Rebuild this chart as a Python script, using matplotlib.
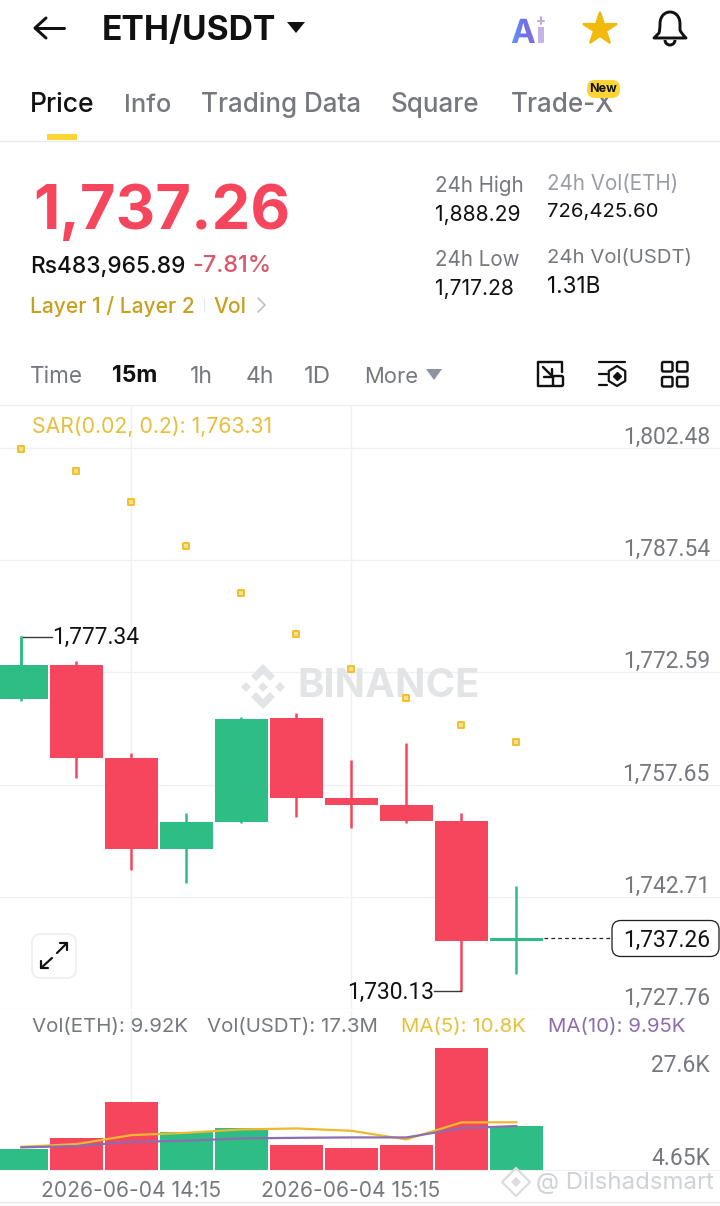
import numpy as np
import matplotlib
matplotlib.use('Agg')
import matplotlib.pyplot as plt
import matplotlib.patches as patches
from matplotlib.path import Path
from matplotlib.textpath import TextPath
from matplotlib.font_manager import FontProperties

W, H = 720, 1206
FONT = 'Inter'
NUM_FONT = 'Roboto'   # chart numbers have even digit widths
plt.rcParams['font.family'] = [FONT, 'DejaVu Sans']

# ── DATA ───────────────────────────────────────────────────
opens  = [1769.04, 1773.57, 1761.22, 1749.11, 1752.70, 1766.50, 1755.80, 1754.88, 1752.76, 1736.77]
highs  = [1777.34, 1774.14, 1761.85, 1753.86, 1766.64, 1767.17, 1760.92, 1763.22, 1753.86, 1744.14]
lows   = [1768.77, 1758.52, 1746.27, 1744.54, 1752.53, 1753.33, 1751.93, 1752.57, 1730.13, 1732.42]
closes = [1773.57, 1761.22, 1749.11, 1752.66, 1766.41, 1755.86, 1754.96, 1752.79, 1736.77, 1737.26]
sar    = [1802.33, 1799.46, 1795.34, 1789.41, 1783.15, 1777.76, 1773.10, 1769.17, 1765.64, 1763.31]
volume = [4.65, 7.28, 15.4, 8.64, 9.40, 5.71, 4.89, 5.71, 27.6, 9.92]
ma5    = [5.25, 5.86, 7.89, 8.41, 9.18, 9.40, 8.86, 6.92, 10.76, 10.8]
ma10   = [5.12, 5.41, 6.38, 6.61, 7.15, 7.28, 7.37, 7.37, 9.47, 9.95]
price_ticks = [1802.48, 1787.54, 1772.59, 1757.65, 1742.71, 1727.76]
vol_ticks   = [27.6, 4.65]
vol_labels  = ['27.6K', '4.65K']
time_pos    = [2, 6]
time_labels = ['2026-06-04 14:15', '2026-06-04 15:15']
last_price  = 1737.26

RED    = '#F6465D'
GREEN  = '#2EBD85'
YELLOW = '#F0B90B'
GOLD   = '#C99F1F'
SAR_C  = '#EFC02F'
PURPLE = '#8B6DB0'
GREY   = '#75787D'
DARK   = '#111111'
GRID   = '#EFF0F2'
MARK   = '#E3E4E6'

fig = plt.figure(figsize=(W / 100, H / 100), dpi=100, facecolor='white')

# page coordinates are just pixels, everything outside the charts goes here
ui = fig.add_axes([0, 0, 1, 1])
ui.set_xlim(0, W)
ui.set_ylim(H, 0)
ui.axis('off')


def axes_px(top, bottom):
    ax = fig.add_axes([0, 1 - bottom / H, 1, (bottom - top) / H])
    ax.patch.set_alpha(0)
    ax.set_xlim(-21.4 / 55, (W - 21.4) / 55)
    for s in ax.spines.values():
        s.set_visible(False)
    ax.set_xticks([])
    ax.set_yticks([])
    return ax


def px(size):
    # font size given in pixels
    return size * 0.72


def label(x, y, s, size, color=DARK, weight='normal', ha='left', **kw):
    # va=center sits a bit high for these fonts
    return ui.text(x, y + 0.09 * size, s, fontsize=px(size), color=color, fontweight=weight,
                   ha=ha, va='center', **kw)


def stroke(xs, ys, color=DARK, lw=2.0, **kw):
    ui.plot(xs, ys, color=color, lw=lw * 0.72, solid_capstyle='round',
            solid_joinstyle='round', **kw)


def rbox(x, y, w, h, r, fc='none', ec=DARK, lw=2.0, **kw):
    ui.add_patch(patches.FancyBboxPatch((x + r, y + r), w - 2 * r, h - 2 * r,
                                        boxstyle=f'round,pad={r},rounding_size={r}',
                                        fc=fc, ec=ec, lw=lw * 0.72, **kw))


# ── HEADER ─────────────────────────────────────────────────
stroke([35, 64], [28, 28], lw=3)
stroke([46, 35, 46], [18, 28, 38], lw=3)
label(102, 28, 'ETH/USDT', 33.6, weight='bold')
ui.add_patch(patches.Polygon([(287, 22), (305, 22), (296, 33)], fc=DARK, ec='none'))

# Ai badge with a blue to violet fade
fp = FontProperties(family=FONT, weight='bold', size=34)
tp = TextPath((0, 0), 'A', prop=fp)
tr = matplotlib.transforms.Affine2D().scale(0.98, -0.98).translate(511, 43) + ui.transData
grad = np.linspace(0, 1, 64).reshape(1, -1)
im = ui.imshow(grad, extent=(511, 536, 43, 16),
               cmap=matplotlib.colors.LinearSegmentedColormap.from_list('ai', ['#5F9BF8', '#6D72E8', '#8F6BD8']),
               aspect='auto', zorder=2)
im.set_clip_path(patches.PathPatch(tp, transform=tr))
ui.set_xlim(0, W)
ui.set_ylim(H, 0)
ui.add_patch(patches.Rectangle((538, 27), 6, 16, fc='#C7B4E6', ec='none'))
stroke([541, 541], [17, 24], color='#C7A6DC', lw=2)
stroke([538, 544], [20.5, 20.5], color='#C7A6DC', lw=2)

ui.plot([600], [29], marker='*', ms=25, mfc=YELLOW, mec=YELLOW, mew=1.5, zorder=3)

# bell
bell = Path([(654, 38), (659, 33), (660, 30), (660, 24), (660, 16), (665, 12), (670, 12),
             (675, 12), (680, 16), (680, 24), (680, 30), (681, 33), (686, 38), (654, 38)],
            [Path.MOVETO, Path.LINETO, Path.CURVE3, Path.LINETO, Path.CURVE4, Path.CURVE4, Path.CURVE4,
             Path.CURVE4, Path.CURVE4, Path.CURVE4, Path.LINETO, Path.CURVE3, Path.CURVE3, Path.CLOSEPOLY])
ui.add_patch(patches.PathPatch(bell, fc='none', ec=DARK, lw=2.1, joinstyle='round'))
ui.add_patch(patches.Arc((670, 40), 10, 10, theta1=0, theta2=180, ec=DARK, lw=2.1))

# tabs
label(30, 103, 'Price', 26.5, weight='medium')
label(124, 103, 'Info', 25.5, color=GREY, weight='medium')
label(201, 103, 'Trading Data', 26, color=GREY, weight='medium')
label(391, 103, 'Square', 26, color=GREY, weight='medium')
label(511, 103, 'Trade-X', 26, color=GREY, weight='medium')
rbox(587, 80, 33, 18, 8, fc='#FCD535', ec='none', zorder=4)
label(603.5, 88, 'New', 12.5, weight='bold', ha='center', zorder=5)
ui.add_patch(patches.Rectangle((47, 134), 30, 6, fc='#FCD535', ec='none'))
ui.plot([0, W], [140.5, 140.5], color='#E8E9EB', lw=1)

# ── PRICE BLOCK ────────────────────────────────────────────
label(33, 207.5, '1,737.26', 61.5, color=RED, weight='bold')
label(30, 265, 'Rs483,965.89', 22.7, weight='medium')
label(192, 264, '-7.81%', 23.5, color='#D9576C', weight='medium')
label(30, 305, 'Layer 1 / Layer 2', 21, color=GOLD, weight='medium')
ui.plot([204, 204], [299, 311], color='#E4E6E9', lw=0.8)
label(213, 305, 'Vol', 21, color=GOLD, weight='medium')
stroke([258, 265, 258], [298, 305, 312], color='#B8BCC4', lw=1.6)

label(435, 184, '24h High', 20.6, color=GREY)
label(435, 213, '1,888.29', 21)
label(435, 258, '24h Low', 20.6, color=GREY)
label(435, 287, '1,717.28', 21)
label(547, 182, '24h Vol(ETH)', 20.6, color='#9A9DA3')
label(547, 210, '726,425.60', 20.3)
label(547, 256, '24h Vol(USDT)', 20.3, color=GREY)
label(547, 285, '1.31B', 22.5)

# ── INTERVAL ROW ───────────────────────────────────────────
label(30, 375, 'Time', 22.5, color=GREY)
label(112, 374, '15m', 23, weight='bold')
label(190, 375, '1h', 23, color=GREY)
label(246, 375, '4h', 23, color=GREY)
label(304, 375, '1D', 24, color=GREY)
label(364, 375, 'More', 22, color=GREY)
ui.add_patch(patches.Polygon([(426, 369), (442, 369), (434, 380)], fc='#8E949E', ec='none'))

# expand icon
stroke([562, 562, 538, 538, 553, 553], [372, 362, 362, 386, 386, 386], lw=2.4)
rbox(553, 376, 10, 10, 1.5, lw=2.4)
stroke([543, 553], [367, 377], lw=2.4)
stroke([552, 552, 544], [369, 377, 377], lw=2.4)
# settings icon
stroke([599, 625], [362, 362], lw=2.2)
stroke([599, 607], [374, 374], lw=2.2)
stroke([599, 607], [385, 385], lw=2.2)
hexa = [(617 + 9.5 * np.sin(a), 376 + 10 * np.cos(a)) for a in np.linspace(0, 2 * np.pi, 7)]
ui.add_patch(patches.Polygon(hexa, fc='none', ec=DARK, lw=1.6, joinstyle='round'))
ui.plot([617], [376], marker='D', ms=4, color=DARK)
# grid icon
for bx in (662, 677):
    for by in (362, 377):
        rbox(bx, by, 10.5, 9.5, 1.5, lw=2.4)

# ── PRICE PANEL ────────────────────────────────────────────
TOP, BOT = 405, 1009
ax = axes_px(TOP, BOT)
per_px = (price_ticks[0] - price_ticks[-1]) / (BOT - 448)
ax.set_ylim(price_ticks[-1], price_ticks[-1] + (BOT - TOP) * per_px)
ax.spines['top'].set_visible(True)
ax.spines['top'].set_color(GRID)
ax.spines['top'].set_linewidth(1)

for t in price_ticks:
    ax.axhline(t, color=GRID, lw=1, zorder=0)
    ax.annotate(f'{t:,.2f}', (710, t), xycoords=('figure pixels', 'data'), xytext=(0, 10.5),
                textcoords='offset pixels', ha='right', va='center',
                fontsize=px(22.8), color=GREY, family=NUM_FONT, zorder=1)
for p in time_pos:
    ax.axvline(p, color=GRID, lw=1, zorder=0)

idx = np.arange(len(opens))
for i, o, h, l, c in zip(idx, opens, highs, lows, closes):
    col = GREEN if c >= o else RED
    ax.vlines(i, l, h, color=col, lw=1.8, zorder=3)
    ax.bar(i, abs(c - o), bottom=min(o, c), width=0.955, color=col, linewidth=0, zorder=3)

ax.scatter(idx, sar, marker='s', s=17, facecolor='#F8E08A', edgecolor=SAR_C, linewidth=1.4, zorder=4)

# high / low callouts
hi = highs[0]
lo = lows[8]
ax.plot([0, 0, 0.55], [closes[0], hi, hi], color='#3a3a3a', lw=1, zorder=2)
ax.plot([0, 0], [closes[0], hi], color=GREEN, lw=1.8, zorder=3)
ax.annotate(f'{hi:,.2f}', (0.55, hi), xytext=(0, -1), textcoords='offset pixels', fontsize=px(22.8),
            color=DARK, ha='left', va='center', family=NUM_FONT, zorder=5)
ax.plot([8, 7.5], [lo, lo], color='#3a3a3a', lw=1, zorder=4)
ax.annotate(f'{lo:,.2f}', (7.5, lo), xytext=(0, -1), textcoords='offset pixels', fontsize=px(22.8),
            color=DARK, ha='right', va='center', family=NUM_FONT, zorder=5)

# last price line and pill
ax.plot([9.5, 10.75], [last_price, last_price], color='#222222', lw=0.9, ls=(0, (3, 2.5)), zorder=3)
rbox(612, 920.5, 107, 36, 9, fc='white', ec='#222222', lw=1.3, zorder=6)
ui.set_zorder(5)
ui.patch.set_alpha(0)
label(667, 938, f'{last_price:,.2f}', 22.8, ha='center', family=NUM_FONT, zorder=7)

# watermark
ax.text(5.02, price_ticks[2] - 14 * per_px, 'BINANCE', fontsize=px(40), fontweight='bold', color=MARK,
        ha='left', va='center', zorder=1)
for cx, cy in [(246, 686.5), (280, 686.5), (263, 686.5)]:
    ui.plot([cx], [cy], marker='D', ms=5.5, color=MARK, mew=0, zorder=1)
ui.add_patch(patches.Polygon([(263, 664), (275, 676), (270, 681), (263, 674), (256, 681), (251, 676)],
                             fc=MARK, ec='none', zorder=1))
ui.add_patch(patches.Polygon([(263, 709), (275, 697), (270, 692), (263, 699), (256, 692), (251, 697)],
                             fc=MARK, ec='none', zorder=1))

# SAR legend
label(32, 425, 'SAR(0.02, 0.2): 1,763.31', 21.2, color='#E8BE3A')

# full screen button
rbox(32, 934, 44, 44, 9, fc='white', ec='#EDEEF0', lw=1.6, zorder=6)
stroke([41, 52], [968, 958], lw=2.2, zorder=7)
stroke([41, 41, 48], [961, 968, 968], lw=2.2, zorder=7)
stroke([57, 67], [953, 943], lw=2.2, zorder=7)
stroke([60, 67, 67], [943, 943, 950], lw=2.2, zorder=7)

# ── VOLUME PANEL ───────────────────────────────────────────
VTOP, VBOT = 1010, 1170
vax = axes_px(VTOP, VBOT)
k_per_px = volume[8] / (VBOT - 1048)
vax.set_ylim(0, (VBOT - VTOP) * k_per_px)
vax.spines['bottom'].set_visible(True)
vax.spines['bottom'].set_color(GRID)
for p in time_pos:
    vax.axvline(p, color=GRID, lw=1, zorder=0)
vcols = [GREEN if c >= o else RED for o, c in zip(opens, closes)]
vax.bar(idx, volume, width=0.955, color=vcols, linewidth=0, zorder=2)
vax.plot(idx, ma5, color='#EDB92E', lw=1.6, zorder=3)
vax.plot(idx, ma10, color=PURPLE, lw=1.6, zorder=4)
for t, s, off in zip(vol_ticks, vol_labels, (-17, -9)):
    vax.annotate(s, (710, t), xycoords=('figure pixels', 'data'), xytext=(0, off),
                 textcoords='offset pixels', ha='right', va='center', fontsize=px(22.8),
                 color=GREY, family=NUM_FONT)

label(32, 1025, 'Vol(ETH): 9.92K', 20.4, color=GREY)
label(207, 1025, 'Vol(USDT): 17.3M', 20.4, color=GREY)
label(401, 1025, 'MA(5): 10.8K', 20.4, color='#E8BE3A')
label(548, 1025, 'MA(10): 9.95K', 20.4, color=PURPLE)

# time axis labels
for p, s in zip(time_pos, time_labels):
    label(21 + 55 * p, 1189, s, 21, color=GREY, ha='center')
ui.plot([0, W], [1202, 1202], color='#E8E9EB', lw=1)

# user watermark
label(536, 1181, '@ Dilshadsmart', 24, color='#CFD2D6')
ui.add_patch(patches.Polygon([(516, 1168), (530, 1182), (516, 1196), (502, 1182)],
                             fc='none', ec='#DADCDF', lw=1.6, joinstyle='round'))
ui.plot([516], [1182], marker='D', ms=5, color='#DADCDF', mew=0)

fig.savefig('out.png', dpi=100, facecolor='white')
